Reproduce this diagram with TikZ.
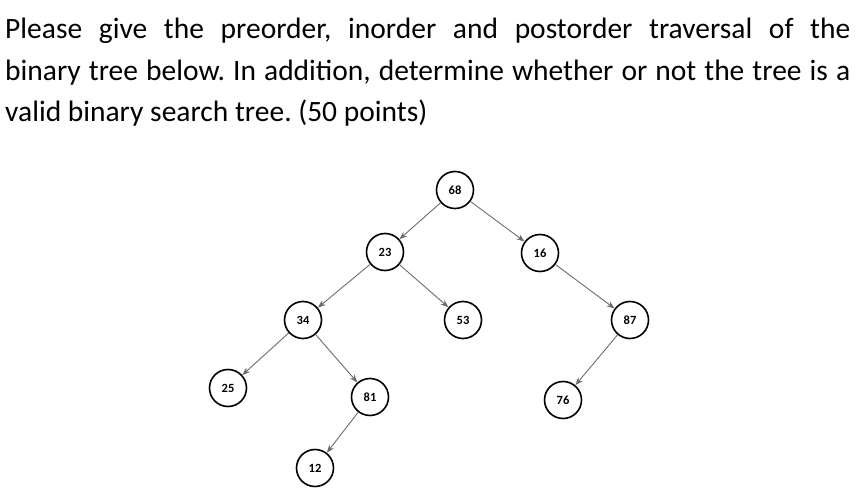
\documentclass[tikz,border=0pt]{standalone}
\usepackage{fontspec}
\setmainfont{Carlito}
\usetikzlibrary{arrows.meta}
\begin{document}
\begin{tikzpicture}[x=1pt,y=-1pt,
  nd/.style={draw,circle,line width=1.6pt,minimum size=37pt,inner sep=0pt,font=\fontsize{12.5}{13}\selectfont\bfseries},
  ed/.style={draw=gray!85!black,line width=0.9pt,-{Stealth[length=8pt,width=6pt]}}]
\useasboundingbox (0,0) rectangle (857,500);
\node[anchor=north west,inner sep=0pt,text width=845pt,align=justify,font=\fontsize{29.5}{41.5}\selectfont\frenchspacing] (t) at (5,18)
{Please give the preorder, inorder and postorder traversal of the\linebreak binary tree below. In addition, determine whether or not the tree is a\linebreak valid binary search tree. (50 points)};
\node[nd] (n68) at (455,190) {68};
\node[nd] (n23) at (385,252) {23};
\node[nd] (n16) at (540,253) {16};
\node[nd] (n34) at (303,320) {34};
\node[nd] (n53) at (463,320) {53};
\node[nd] (n87) at (630,320) {87};
\node[nd] (n25) at (228,388) {25};
\node[nd] (n81) at (370,397) {81};
\node[nd] (n76) at (563,400) {76};
\node[nd] (n12) at (315,468) {12};
\draw[ed] (n68) -- (n23);
\draw[ed] (n68) -- (n16);
\draw[ed] (n23) -- (n34);
\draw[ed] (n23) -- (n53);
\draw[ed] (n16) -- (n87);
\draw[ed] (n34) -- (n25);
\draw[ed] (n34) -- (n81);
\draw[ed] (n87) -- (n76);
\draw[ed] (n81) -- (n12);
\end{tikzpicture}
\end{document}
